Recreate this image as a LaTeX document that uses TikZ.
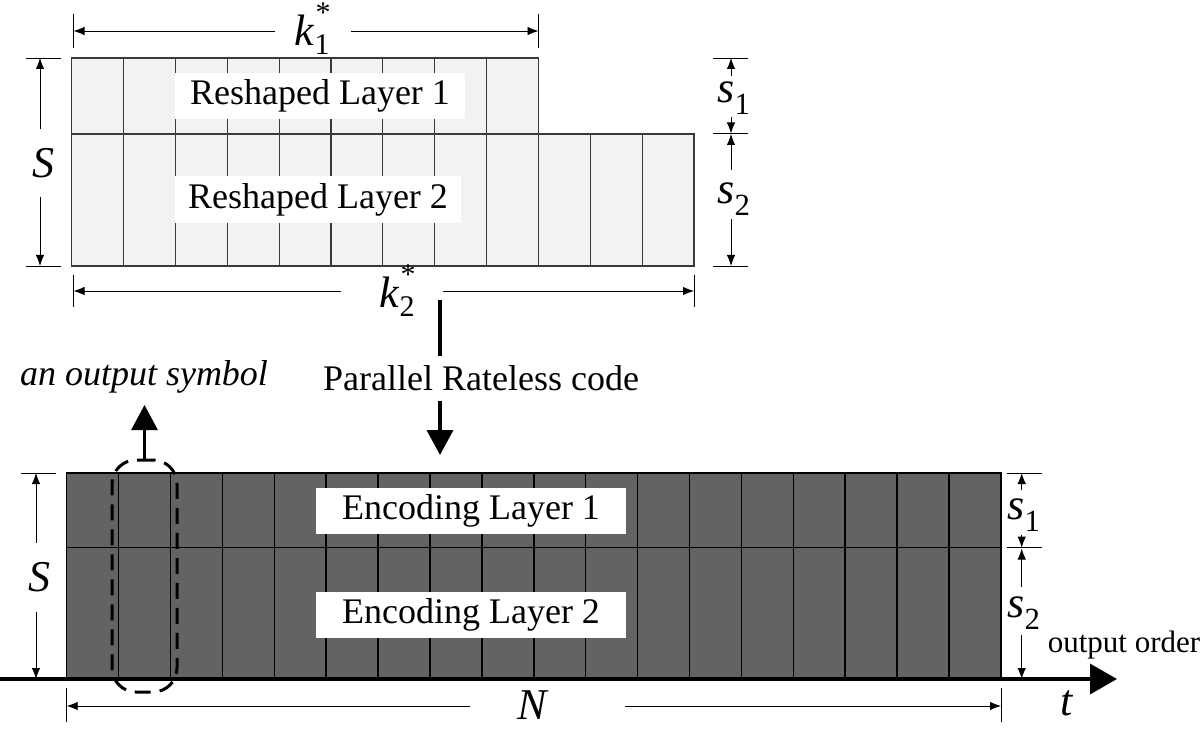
\documentclass[tikz,border=0pt]{standalone}
\usepackage{fontspec}
\setmainfont{Liberation Serif}
\usepackage{amsmath}
\usetikzlibrary{arrows.meta}
\definecolor{lightcell}{HTML}{F2F2F2}
\definecolor{darkcell}{HTML}{636363}
\definecolor{gridgray}{HTML}{3A3A3A}
\tikzset{
  gridthin/.style={draw=gridgray, line width=1.1pt},
  gridthick/.style={draw=black, line width=1.5pt},
  wbox/.style={fill=white, inner sep=0pt, font=\fontsize{36}{40}\selectfont},
  mlabel/.style={inner sep=0pt, font=\fontsize{44}{48}\selectfont},
  sublabel/.style={inner sep=0pt, font=\fontsize{30}{32}\selectfont},
  dimline/.style={draw=black, line width=0.9pt},
  dimtip/.style={dimline, -{Latex[length=11pt,width=8.5pt]}},
  bigarrow/.style={draw=black, line width=3.5pt, -{Triangle[length=25pt,width=26pt]}},
  bigline/.style={draw=black, line width=3.5pt},
  txt/.style={inner sep=0pt, font=\fontsize{36}{40}\selectfont},
}
\begin{document}
\begin{tikzpicture}[x=1pt,y=-1pt]
\useasboundingbox (0,0) rectangle (1200,730);

% ---------- top reshaped grid ----------
\fill[lightcell] (71.5,58) rectangle (538.5,134);
\fill[lightcell] (71.5,134) rectangle (694,266);
\foreach \i in {1,...,8} \draw[gridthin] (71.5+\i*51.9,58) -- (71.5+\i*51.9,134);
\foreach \i in {1,...,11} \draw[gridthin] (71.5+\i*51.9,134) -- (71.5+\i*51.9,266);
\draw[gridthin] (71.5,58) -- (538.5,58) -- (538.5,134) -- (694,134) -- (694,266) -- (71.5,266) -- cycle;
\draw[gridthin] (71.5,134) -- (538.5,134);
\node[wbox, minimum width=290pt, minimum height=46pt] (r1) at (320,96) {Reshaped Layer 1};
\node[wbox, minimum width=286pt, minimum height=47pt] (r2) at (318,199.5) {Reshaped Layer 2};

% k1* dimension
\draw[dimline] (73.5,14) -- (73.5,48);
\draw[dimline] (538.5,14) -- (538.5,48);
\node[mlabel] (k1) at (305,30) {\textit{k}};
\node[sublabel] (k1s) at (322,45) {1};
\node[sublabel] (k1t) at (323,13) {*};
\coordinate (k1a) at (275,31); \coordinate (k1b) at (351,31);
\draw[dimtip] (k1a) -- (73.5,31);
\draw[dimtip] (k1b) -- (538.5,31);

% S dimension (top)
\draw[dimline] (26,58) -- (61,58);
\draw[dimline] (26,266) -- (61,266);
\node[mlabel] (S1) at (43,163) {\textit{S}};
\draw[dimtip] (40,129) -- (40,58);
\draw[dimtip] (40,197) -- (40,266);

% s1 s2 dimension (top)
\draw[dimline] (713,58) -- (748,58);
\draw[dimline] (713,133.5) -- (748,133.5);
\draw[dimline] (713,266) -- (748,266);
\node[mlabel] (ts1) at (734,98) {$\textit{s}_{\textup{1}}$};
\node[mlabel] (ts2) at (734,199) {$\textit{s}_{\textup{2}}$};
\draw[dimtip] (731,76) -- (731,58);
\draw[dimtip] (731,117) -- (731,133.5);
\draw[dimtip] (731,170) -- (731,134);
\draw[dimtip] (731,219) -- (731,266);

% k2* dimension
\draw[dimline] (73.5,275) -- (73.5,307);
\draw[dimline] (694,275) -- (694,307);
\node[mlabel] (k2) at (390,292) {\textit{k}};
\node[sublabel] (k2s) at (407,307) {2};
\node[sublabel] (k2t) at (408,275) {*};
\draw[dimtip] (341,291) -- (73.5,291);
\draw[dimtip] (442.5,291) -- (694,291);

% ---------- Parallel Rateless code arrow ----------
\coordinate (src) at (440,300);
\coordinate (mid1) at (440,356);
\coordinate (mid2) at (440,401);
\coordinate (enctip) at (440,455);
\node[txt] (prc) at (481,378) {Parallel Rateless code};
\draw[bigline] (src) -- (mid1);
\draw[bigarrow] (mid2) -- (enctip);

% ---------- bottom encoding grid ----------
\fill[darkcell] (66.7,473) rectangle (1000.9,679);
\foreach \i in {1,...,17} \draw[gridthick] (66.7+\i*51.9,473) -- (66.7+\i*51.9,679);
\draw[gridthick] (66.7,547.7) -- (1000.9,547.7);
\draw[gridthick] (66.7,679) -- (66.7,473);
\draw[gridthick] (1000.9,473) -- (1000.9,679);
\draw[draw=black, line width=2.6pt] (65.5,473) -- (1002.1,473);
\node[wbox, minimum width=310pt, minimum height=46pt] (e1) at (471,511) {Encoding Layer 1};
\node[wbox, minimum width=310pt, minimum height=46pt] (e2) at (471,615) {Encoding Layer 2};

% time axis
\coordinate (ax0) at (0,679);
\coordinate (ax1) at (1117,679);
\draw[draw=black, line width=3.5pt, -{Triangle[length=27pt,width=30pt]}] (ax0) -- (ax1);
\node[mlabel] (tl) at (1067,703) {\textit{t}};
\node[inner sep=0pt, font=\fontsize{31}{34}\selectfont] (oo) at (1124,645) {output order};

% dashed output symbol
\node[draw=black, line width=3pt, dash pattern=on 16pt off 9pt, rounded corners=24pt,
      minimum width=65pt, minimum height=232pt, inner sep=0pt] (oval) at (144.5,576) {};
\coordinate (symtip) at (144.5,405);
\draw[draw=black, line width=3pt, -{Triangle[length=25pt,width=26pt]}] (oval.north) -- (symtip);
\node[txt, font=\fontsize{36}{40}\selectfont\itshape] (symlbl) at (144,377) {an output symbol};

% S dimension (bottom)
\draw[dimline] (21,473) -- (56,473);
\draw[dimline] (21,679) -- (56,679);
\node[mlabel] (S2) at (39,577) {\textit{S}};
\draw[dimtip] (36,543) -- (36,473);
\draw[dimtip] (36,612) -- (36,679);

% s1 s2 dimension (bottom)
\draw[dimline] (1007,473) -- (1042,473);
\draw[dimline] (1007,547.7) -- (1042,547.7);
\draw[dimline] (1007,679) -- (1042,679);
\node[mlabel] (bs1) at (1024,515) {$\textit{s}_{\textup{1}}$};
\node[mlabel] (bs2) at (1024,613) {$\textit{s}_{\textup{2}}$};
\draw[dimtip] (1021.7,490) -- (1021.7,473);
\draw[dimtip] (1021.7,535) -- (1021.7,547.7);
\draw[dimtip] (1021.7,587) -- (1021.7,548.5);
\draw[dimtip] (1021.7,635) -- (1021.7,679);

% N dimension
\draw[dimline] (66.7,688) -- (66.7,722);
\draw[dimline] (1001,688) -- (1001,722);
\node[mlabel] (NN) at (533,705) {\textit{N}};
\draw[dimtip] (470,706) -- (66.7,706);
\draw[dimtip] (625,706) -- (1001,706);
\end{tikzpicture}
\end{document}
